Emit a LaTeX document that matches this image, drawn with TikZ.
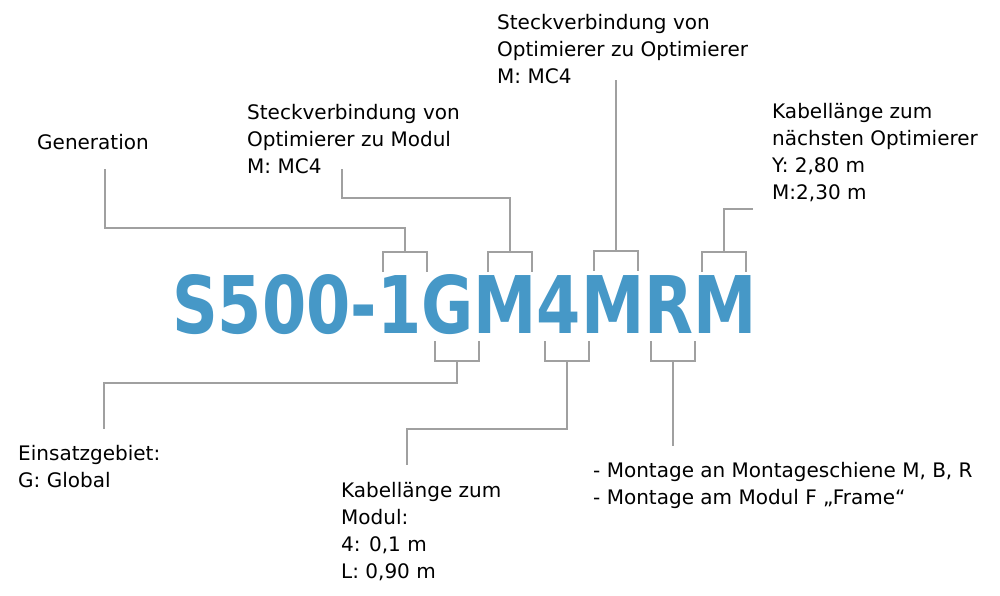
\documentclass[tikz,border=0pt]{standalone}
\usepackage{fontspec}
\setmainfont{DejaVu Sans}
\usepackage{tikz}

\definecolor{codeblue}{HTML}{4698C7}
\definecolor{linegray}{HTML}{A0A0A0}

\tikzset{
  upbrk/.pic = {\draw[brk] (-22,20) |- (22,0) -- (22,20);},
  lowbrk/.pic = {\draw[brk] (-22,-20) |- (22,0) -- (22,-20);}
}

\begin{document}
\begin{tikzpicture}[x=1pt, y=-1pt,
    lbl/.style = {anchor=base west, align=left, inner sep=0pt,
      font=\fontsize{20}{27}\selectfont},
    brk/.style = {draw=linegray, line width=1.3pt}]
\useasboundingbox (0,0) rectangle (1000,596);

% type code
\node[anchor=base west, inner sep=0pt, text=codeblue,
  font=\fontsize{79.5}{80}\selectfont\bfseries] (code) at (172,333)
  {\scalebox{0.8}[1]{S500-1GM4MRM}};

% labels (placed at the baseline of their last line)
\node[lbl] (gen) at (37,150) {Generation};
\node[lbl] (modcon) at (247,174) {Steckverbindung von\\Optimierer zu Modul\\M: MC4};
\node[lbl] (optcon) at (497,84) {Steckverbindung von\\Optimierer zu Optimierer\\M: MC4};
\node[lbl] (optlen) at (772,199) {Kabellänge zum\\nächsten Optimierer\\Y: 2,80 m\\M:2,30 m};
\node[lbl] (area) at (18,487) {Einsatzgebiet:\\G: Global};
\node[lbl] (modlen) at (341,578) {Kabellänge zum\\Modul:\\4: 0,1 m\\L: 0,90 m};
\node[lbl] (mount) at (593,504) {- Montage an Montageschiene M, B, R\\- Montage am Modul F „Frame“};

% brackets
\coordinate (u1) at (405,252);
\coordinate (u2) at (510,252);
\coordinate (u3) at (616,251);
\coordinate (u4) at (724,252);
\coordinate (l1) at (457,361);
\coordinate (l2) at (567,361);
\coordinate (l3) at (673,361);
\foreach \b in {u1,u2,u3,u4} \pic at (\b) {upbrk};
\foreach \b in {l1,l2,l3} \pic at (\b) {lowbrk};

% connector ends
\coordinate (gen-end) at (105,169);
\coordinate (modcon-end) at (342,169);
\coordinate (optcon-end) at (616,80);
\coordinate (optlen-end) at (753,209);
\coordinate (area-end) at (104,429);
\coordinate (modlen-end) at (407,465);
\coordinate (mount-end) at (673,446);

\draw[brk] (u1) -- ++(0,-24) -| (gen-end);
\draw[brk] (u2) -- ++(0,-54) -| (modcon-end);
\draw[brk] (u3) -- (optcon-end);
\draw[brk] (u4) |- (optlen-end);
\draw[brk] (l1) -- ++(0,22) -| (area-end);
\draw[brk] (l2) -- ++(0,68) -| (modlen-end);
\draw[brk] (l3) -- (mount-end);
\end{tikzpicture}
\end{document}
